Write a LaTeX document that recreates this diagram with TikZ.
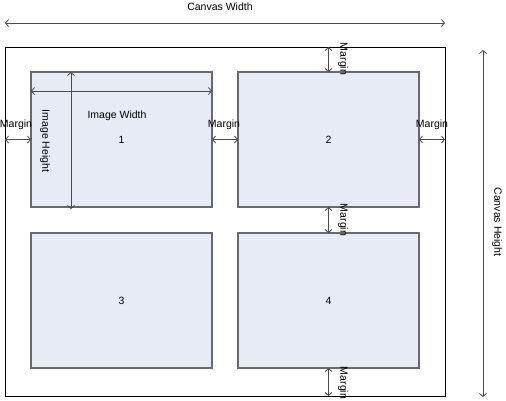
\documentclass[tikz,border=0pt]{standalone}
\usepackage{fontspec}
\setmainfont{Liberation Sans}
\usetikzlibrary{arrows.meta,positioning}
\definecolor{imgfill}{RGB}{230,235,246}
\definecolor{imgline}{RGB}{105,105,105}
\tikzset{
  img/.style={draw=imgline, line width=1.4pt, fill=imgfill, minimum width=181pt,
    minimum height=135pt, inner sep=0pt, outer sep=0pt, font=\fontsize{10.5}{12}\selectfont},
  dim/.style={{Straight Barb[length=3pt,width=7pt]}-{Straight Barb[length=3pt,width=7pt]},
    draw=black!70, line width=0.8pt},
  lbl/.style={font=\fontsize{10.5}{12}\selectfont, inner sep=0pt},
}
\begin{document}
\begin{tikzpicture}[x=1pt, y=-1pt]
    \useasboundingbox (0,0) rectangle (506,400);

    % Canvas
    \node[draw=black, line width=0.8pt, minimum width=440pt, minimum height=349pt,
      inner sep=0pt, outer sep=0pt] (canvas) at (225,221.5) {};

    % Images
    \node[img] (im1) at (121.5,139.5) {1};
    \node[img, right=26pt of im1] (im2) {2};
    \node[img, below=26pt of im1] (im3) {3};
    \node[img, right=26pt of im3] (im4) {4};

    % Canvas size
    \coordinate (cw1) at (5,23);
    \coordinate (cw2) at (445,23);
    \draw[dim] (cw1) -- (cw2);
    \node[lbl] (cwlbl) at (220,7) {Canvas Width};
    \coordinate (ch1) at (483,50);
    \coordinate (ch2) at (483,397);
    \draw[dim] (ch1) -- (ch2);
    \node[lbl, rotate=-90] (chlbl) at (497,222) {Canvas Height};

    % Image size
    \draw[dim] ([yshift=-19pt]im1.north west) -- ([yshift=-19pt]im1.north east);
    \node[lbl] (iwlbl) at (117,116) {Image Width};
    \draw[dim] ([xshift=40pt]im1.north west) -- ([xshift=40pt,yshift=-2pt]im1.south west);
    \node[lbl, rotate=-90] (ihlbl) at (45,141) {Image Height};

    % Margins
    \draw[dim] (canvas.west |- im1) -- (im1.west);
    \draw[dim] (im1.east) -- (im2.west);
    \draw[dim] (im2.east) -- (canvas.east |- im2);
    \node[lbl] (m1) at (16,125) {Margin};
    \node[lbl] (m2) at (224,125) {Margin};
    \node[lbl] (m3) at (432,125) {Margin};
    \draw[dim] (canvas.north -| im2) -- (im2.north);
    \draw[dim] (im2.south) -- (im4.north);
    \draw[dim] (im4.south) -- (canvas.south -| im4);
    \node[lbl, rotate=-90] (m4) at (343,59) {Margin};
    \node[lbl, rotate=-90] (m5) at (343,220) {Margin};
    \node[lbl, rotate=-90] (m6) at (343,383) {Margin};
\end{tikzpicture}
\end{document}
